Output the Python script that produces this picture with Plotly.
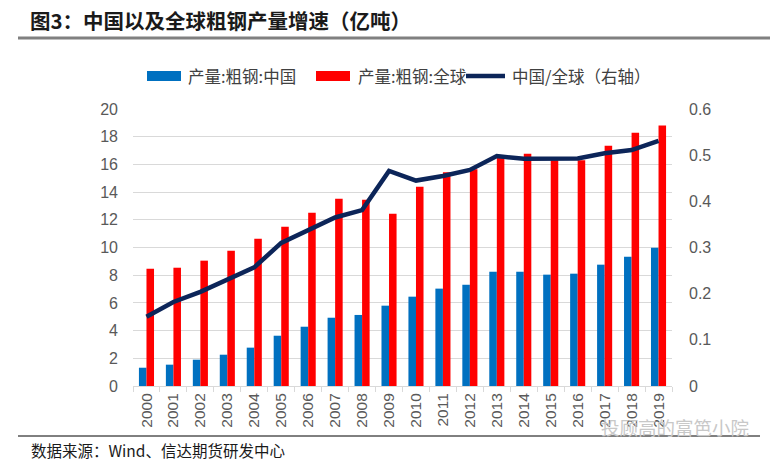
import plotly.graph_objects as go

years = [str(y) for y in range(2000, 2020)]
china = [1.32, 1.54, 1.90, 2.26, 2.77, 3.63, 4.28, 4.93, 5.13, 5.80,
         6.45, 7.03, 7.31, 8.25, 8.25, 8.04, 8.11, 8.76, 9.34, 9.99]
world = [8.47, 8.54, 9.05, 9.77, 10.64, 11.50, 12.51, 13.52, 13.45, 12.44,
         14.39, 15.43, 15.65, 16.56, 16.77, 16.30, 16.30, 17.35, 18.29, 18.80]
ratio = [0.150, 0.182, 0.204, 0.231, 0.257, 0.310, 0.338, 0.365, 0.381, 0.466,
         0.445, 0.455, 0.468, 0.498, 0.492, 0.493, 0.493, 0.504, 0.511, 0.531]

left_ticks = [0, 2, 4, 6, 8, 10, 12, 14, 16, 18, 20]
right_ticks = [0, 0.1, 0.2, 0.3, 0.4, 0.5, 0.6]
right_labels = ["0", "0.1", "0.2", "0.3", "0.4", "0.5", "0.6"]

names = ["产量:粗钢:中国", "产量:粗钢:全球", "中国/全球（右轴）"]
colors = ["#0070C0", "#FF0000", "#0C2559"]

title_text = "图3：中国以及全球粗钢产量增速（亿吨）"
source_text = "数据来源：Wind、信达期货研发中心"
watermark = "投顾高的富笆小院"

CJK = "Noto Sans CJK SC"
NUM = "Liberation Sans, Arial"
TICKFONT = dict(family=NUM, size=16, color="#595959")

# plot area in pixels
PL, PR, PT, PB = 133, 672, 109, 386
PW, PH = PR - PL, PB - PT


def px(x):
    return (x - PL) / PW


def py(y):
    return (PB - y) / PH


fig = go.Figure()
fig.add_trace(go.Bar(x=years, y=china, name=names[0],
                     marker=dict(color=colors[0], line=dict(width=0))))
fig.add_trace(go.Bar(x=years, y=world, name=names[1],
                     marker=dict(color=colors[1], line=dict(width=0))))
fig.add_trace(go.Scatter(x=years, y=ratio, name=names[2], yaxis="y2",
                         mode="lines", line=dict(color=colors[2], width=4.5)))

fig.update_layout(
    width=774, height=462,
    paper_bgcolor="white", plot_bgcolor="white",
    margin=dict(l=PL, r=774 - PR, t=PT, b=462 - PB),
    barmode="group", bargap=0.44, bargroupgap=0,
    font=dict(family=CJK, color="#404040"),
    showlegend=False,
    xaxis=dict(type="category", tickangle=-90,
               tickfont=dict(family=NUM, size=15.5, color="#595959"),
               showline=True, linecolor="#D9D9D9", linewidth=1,
               ticks="outside", tickson="boundaries", ticklen=5, tickcolor="#D9D9D9",
               showgrid=False),
    yaxis=dict(range=[0, 20], tickvals=left_ticks, tickfont=TICKFONT,
               showgrid=True, gridcolor="#D9D9D9", gridwidth=1, zeroline=False,
               showline=False, ticks="", ticklabelstandoff=14),
    yaxis2=dict(range=[0, 0.6], tickvals=right_ticks, ticktext=right_labels,
                overlaying="y", side="right", tickfont=TICKFONT,
                showgrid=False, zeroline=False, showline=False, ticks="",
                ticklabelstandoff=16),
)

# manual legend (symbols + labels)
LY = 76
fig.add_shape(type="rect", xref="paper", yref="paper",
              x0=px(147), x1=px(181), y0=py(81), y1=py(71),
              fillcolor=colors[0], line=dict(width=0))
fig.add_shape(type="rect", xref="paper", yref="paper",
              x0=px(316), x1=px(350), y0=py(81), y1=py(71),
              fillcolor=colors[1], line=dict(width=0))
fig.add_shape(type="line", xref="paper", yref="paper",
              x0=px(466), x1=px(505), y0=py(LY), y1=py(LY),
              line=dict(color=colors[2], width=4.5))
for xpos, label in zip([186, 356, 510], names):
    fig.add_annotation(text=label, xref="paper", yref="paper",
                       x=px(xpos), y=py(LY), xanchor="left", yanchor="middle",
                       showarrow=False,
                       font=dict(family=CJK, size=16.5, color="#404040"))

fig.add_annotation(text="<b>" + title_text + "</b>", xref="paper", yref="paper",
                   x=px(28), y=py(20), xanchor="left", yanchor="middle",
                   showarrow=False, font=dict(family=CJK, size=20.5, color="#1a1a1a"))

fig.add_shape(type="line", xref="paper", yref="paper",
              x0=px(18), x1=px(770), y0=py(38), y1=py(38),
              line=dict(color="#808080", width=3))
fig.add_shape(type="line", xref="paper", yref="paper",
              x0=px(18), x1=px(760), y0=py(436), y1=py(436),
              line=dict(color="#000000", width=1))

fig.add_annotation(text=source_text, xref="paper", yref="paper",
                   x=px(29), y=py(450), xanchor="left", yanchor="middle",
                   showarrow=False, font=dict(family=CJK, size=15.5, color="#1a1a1a"))
fig.add_annotation(text=watermark, xref="paper", yref="paper",
                   x=px(599), y=py(427), xanchor="left", yanchor="middle",
                   showarrow=False, font=dict(family=CJK, size=18.5, color="#C8C8C8"))

fig.write_html("out.html", config={"displayModeBar": False},
               post_script="document.body.style.margin='0';document.body.style.padding='0';")
